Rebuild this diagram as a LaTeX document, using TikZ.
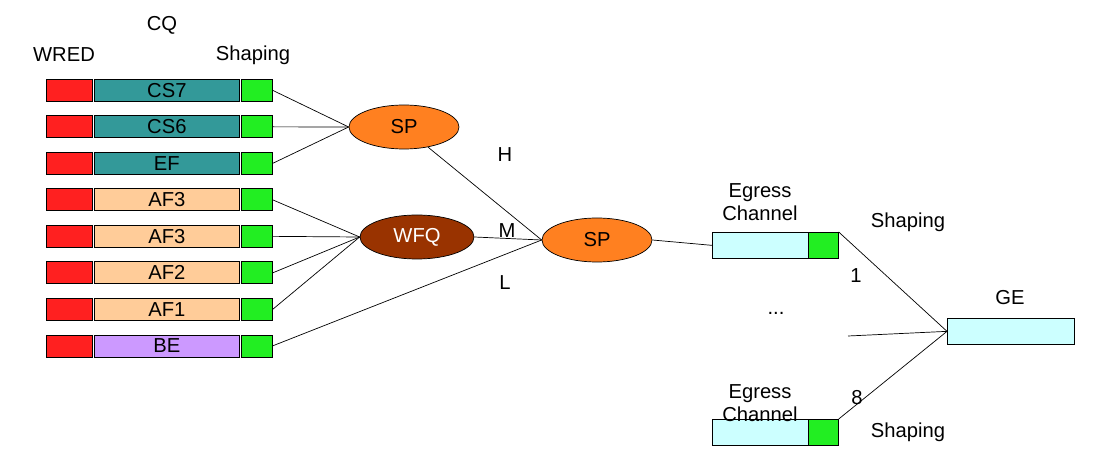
\documentclass[tikz,border=0pt]{standalone}
\usepackage{fontspec}
\setmainfont{Liberation Sans}
\usetikzlibrary{shapes.geometric}
\definecolor{wred}{HTML}{FF2020}
\definecolor{teal2}{HTML}{339999}
\definecolor{peach}{HTML}{FFCC99}
\definecolor{lav}{HTML}{CC99FF}
\definecolor{gr}{HTML}{22EE22}
\definecolor{orng}{HTML}{FF8020}
\definecolor{brn}{HTML}{993300}
\definecolor{cyanl}{HTML}{CCFFFF}
\begin{document}
\begin{tikzpicture}[x=0.02cm,y=-0.02cm,font=\fontsize{11.5}{13}\selectfont,
 box/.style={draw,rectangle,inner sep=0,anchor=north west},
 ell/.style={draw,ellipse,minimum width=110*0.02cm,minimum height=44*0.02cm,inner sep=0}]
\useasboundingbox (0,0) rectangle (1094,469);
\node at (64,55) {WRED};
\node at (162,25) {CQ};
\node at (253,55) {Shaping};
\foreach \n/\t/\c [count=\i from 0] in {a/CS7/teal2,b/CS6/teal2,c/EF/teal2,d/AF3/peach,e/AF3/peach,f/AF2/peach,g/AF1/peach,h/BE/lav}{
  \pgfmathsetmacro\yy{79+36.5*\i}
  \node[box,fill=wred,minimum width=46*0.02cm,minimum height=22*0.02cm] (r\n) at (46,\yy) {};
  \node[box,fill=\c,minimum width=145*0.02cm,minimum height=22*0.02cm] (q\n) at (94,\yy) {\t};
  \node[box,fill=gr,minimum width=31*0.02cm,minimum height=22*0.02cm] (s\n) at (241,\yy) {};
}
\node[ell,fill=orng] (sp1) at (404,127) {SP};
\node[ell,fill=brn,text=white,minimum width=114*0.02cm] (wfq) at (417,237) {WFQ};
\node[ell,fill=orng] (sp2) at (597,240) {SP};
\foreach \n in {a,b,c} \draw (s\n.east) -- (sp1.west);
\foreach \n in {d,e,f,g} \draw (s\n.east) -- (wfq.west);
\draw (sh.east) -- (sp2.west);
\draw (sp1.-40) -- (sp2.west);
\draw (wfq.east) -- (sp2.west);
\node at (505,155) {H};
\node at (507,231) {M};
\node at (505,283) {L};
\node[box,fill=cyanl,minimum width=96*0.02cm,minimum height=26*0.02cm] (e1) at (712,232) {};
\node[box,fill=gr,minimum width=30*0.02cm,minimum height=26*0.02cm] (g1) at (808,232) {};
\node[box,fill=cyanl,minimum width=96*0.02cm,minimum height=26*0.02cm] (e2) at (712,419) {};
\node[box,fill=gr,minimum width=30*0.02cm,minimum height=26*0.02cm] (g2) at (808,419) {};
\node[box,fill=cyanl,minimum width=127*0.02cm,minimum height=26*0.02cm] (ge) at (947,318) {};
\draw (sp2.east) -- (e1.west);
\node[align=center] at (760,202) {Egress\\Channel};
\node[align=center] at (760,403) {Egress\\Channel};
\node at (908,222) {Shaping};
\node at (908,432) {Shaping};
\node at (1010,298) {GE};
\node at (856,276) {1};
\node at (857,398) {8};
\node at (776,313) {...};
\coordinate (mid) at (848,336);
\draw (g1.north east) -- (ge.west);
\draw (mid) -- (ge.west);
\draw (g2.north east) -- (ge.west);
\end{tikzpicture}
\end{document}
